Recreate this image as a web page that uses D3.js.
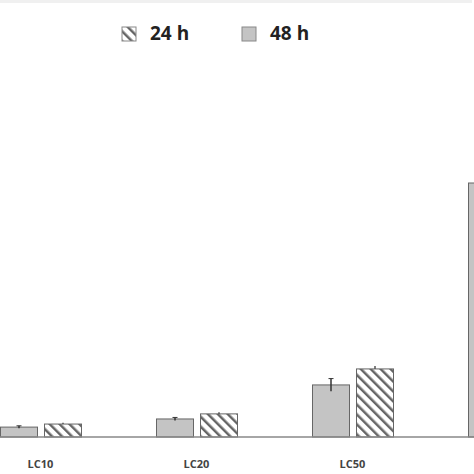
<!DOCTYPE html><html><head><script src="https://cdn.jsdelivr.net/npm/d3@7"></script>
<style>body{margin:0;background:#fff}</style></head><body><svg id="c" width="474" height="474"></svg>
<script>
const categories=["LC10","LC20","LC50","LC90"];
const labels=["LC10","LC20","LC50",""];
const grey48=[3.9,7.1,20.5,100];
const hatch24=[5.1,9.1,26.8,null];
const errG=[0.5,0.6,2.5,0];
const errH=[0.5,0.6,1.2,0];
const svg=d3.select("#c");
const defs=svg.append("defs");
const p=defs.append("pattern").attr("id","h").attr("patternUnits","userSpaceOnUse").attr("width",7).attr("height",7).attr("patternTransform","rotate(-45)");
p.append("rect").attr("width",7).attr("height",7).attr("fill","#fff");
p.append("rect").attr("width",2.5).attr("height",7).attr("fill","#666");
svg.append("rect").attr("x",0).attr("y",0).attr("width",472).attr("height",3).attr("fill","#f0f0f0");
const x=d3.scaleBand().domain(categories).range([-37.5,586.5]);
const y=d3.scaleLinear().domain([0,100]).range([437,183]);
const g=svg.append("g");
categories.forEach((c,i)=>{
 const cx=x(c)+x.bandwidth()/2;
 g.append("rect").attr("x",cx-40).attr("width",37).attr("y",y(grey48[i])).attr("height",y(0)-y(grey48[i])).attr("fill","#c4c4c4").attr("stroke","#666").attr("stroke-width",1);
 if(errG[i]){g.append("line").attr("x1",cx-21.5).attr("x2",cx-21.5).attr("y1",y(grey48[i]+errG[i])).attr("y2",y(grey48[i]-errG[i])).attr("stroke","#333").attr("stroke-width",1.5);
 g.append("line").attr("x1",cx-24).attr("x2",cx-19).attr("y1",y(grey48[i]+errG[i])).attr("y2",y(grey48[i]+errG[i])).attr("stroke","#333");}
 if(hatch24[i]!=null){
 g.append("rect").attr("x",cx+4).attr("width",37).attr("y",y(hatch24[i])).attr("height",y(0)-y(hatch24[i])).attr("fill","url(#h)").attr("stroke","#666");
 g.append("line").attr("x1",cx+22.5).attr("x2",cx+22.5).attr("y1",y(hatch24[i]+errH[i])).attr("y2",y(hatch24[i])).attr("stroke","#555").attr("stroke-width",1.5);}
 if(labels[i])g.append("text").attr("x",cx).attr("y",468).attr("text-anchor","middle").attr("font-family","Open Sans, sans-serif").attr("font-weight","bold").attr("font-size",11).attr("fill","#444").text(labels[i]);
});
svg.append("line").attr("x1",0).attr("x2",474).attr("y1",437).attr("y2",437).attr("stroke","#888").attr("stroke-width",1.5);
const leg=[{l:"24 h",f:"url(#h)",x:122},{l:"48 h",f:"#c4c4c4",x:242}];
leg.forEach(d=>{svg.append("rect").attr("x",d.x).attr("y",27).attr("width",14).attr("height",14).attr("fill",d.f).attr("stroke","#888");
svg.append("text").attr("x",d.x+28).attr("y",40).attr("font-family","Open Sans, sans-serif").attr("font-weight","bold").attr("font-size",19).attr("fill","#222").text(d.l);});
</script></body></html>
